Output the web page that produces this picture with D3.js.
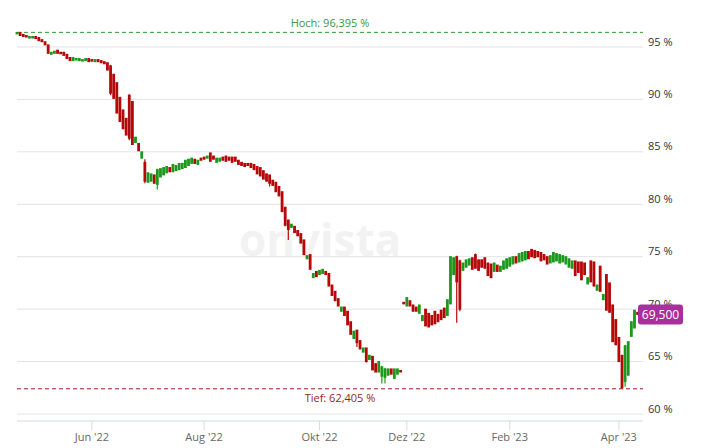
<!DOCTYPE html>
<html lang="de">
<head>
<meta charset="UTF-8">
<title>Kursverlauf</title>
<script src="https://cdn.jsdelivr.net/npm/d3@7"></script>
<style>
  body { margin: 0; background: #fff; }
  svg { display: block; }
  text { font-family: 'Open Sans', sans-serif; }
</style>
</head>
<body>
<script>
// daily candles, oldest first (one per trading day)
const openVals = [
  96.30, 96.39, 96.20, 96.10, 95.85, 95.90, 96.00, 95.90, 95.70, 95.50,
  95.20, 94.30, 94.40, 94.70, 94.50, 94.50, 94.30, 94.00, 93.70, 93.80,
  93.70, 93.70, 93.70, 93.90, 93.80, 93.60, 93.80, 93.70, 93.60, 93.50,
  93.20, 92.40, 91.60, 90.20, 89.00, 88.20, 90.40, 89.80, 85.90, 85.80,
  84.40, 84.00, 82.10, 82.20, 82.80, 81.90, 82.60, 82.80, 83.00, 83.50,
  83.10, 83.20, 83.30, 83.40, 83.50, 83.70, 83.90, 84.30, 83.80, 84.40,
  84.50, 84.40, 84.90, 84.60, 84.00, 84.10, 84.50, 84.60, 84.50, 84.50,
  84.50, 84.20, 84.00, 83.90, 83.90, 83.90, 83.80, 83.60, 83.50, 83.20,
  82.90, 82.80, 82.30, 82.10, 81.70, 81.20, 79.70, 78.50, 77.80, 77.90,
  77.50, 77.20, 76.60, 74.80, 75.20, 73.00, 73.60, 73.30, 73.40, 73.60,
  73.40, 72.30, 71.70, 71.00, 69.80, 70.20, 69.80, 68.80, 67.20, 68.00,
  67.00, 65.90, 66.30, 65.20, 65.50, 64.80, 64.00, 63.60, 63.50, 63.70,
  64.30, 63.40, 63.80, 64.15, 70.65, 70.30, 70.80, 70.40, 70.20, 69.60,
  68.90, 70.00, 69.60, 69.40, 69.80, 69.50, 69.90, 70.10, 69.40, 70.50,
  73.30, 75.00, 74.60, 73.70, 74.00, 74.20, 74.90, 75.20, 74.70, 74.70,
  74.90, 74.40, 74.30, 73.60, 74.20, 73.60, 73.80, 73.90, 74.10, 74.30,
  75.00, 74.50, 74.60, 74.70, 75.50, 75.70, 75.60, 75.50, 75.40, 75.20,
  75.00, 74.40, 74.50, 74.60, 74.40, 74.50, 74.30, 74.00, 73.90, 74.60,
  74.50, 74.50, 74.40, 72.40, 74.60, 74.50, 71.80, 74.10, 70.90, 73.30,
  72.50, 70.40, 69.00, 67.30, 65.60, 63.10, 63.70, 67.40, 68.20, 69.70
];
const closeVals = [
  96.39, 96.10, 96.00, 95.95, 96.00, 96.00, 95.80, 95.60, 95.50, 95.20,
  94.40, 94.50, 94.60, 94.40, 94.40, 94.20, 93.90, 93.70, 94.00, 93.90,
  93.90, 93.80, 93.90, 93.60, 93.65, 93.80, 93.60, 93.50, 93.40, 92.80,
  90.60, 90.10, 88.70, 87.90, 87.20, 86.60, 86.30, 85.70, 86.40, 85.10,
  85.00, 82.20, 83.00, 82.90, 82.00, 83.30, 83.40, 83.50, 83.60, 83.10,
  83.80, 83.70, 83.90, 83.90, 84.20, 84.30, 84.40, 83.90, 84.20, 84.20,
  84.30, 84.60, 84.10, 84.30, 84.40, 84.40, 84.20, 84.10, 84.20, 84.00,
  84.10, 83.80, 83.70, 83.60, 83.70, 83.50, 83.30, 82.90, 82.70, 82.40,
  82.20, 82.00, 81.80, 81.20, 80.80, 79.30, 78.00, 77.60, 78.10, 77.30,
  77.00, 76.30, 75.20, 75.10, 73.80, 73.40, 73.10, 73.70, 73.80, 73.30,
  72.20, 71.30, 70.80, 70.30, 70.20, 69.40, 68.50, 67.60, 67.90, 66.80,
  66.20, 66.30, 65.00, 65.60, 64.20, 64.00, 65.00, 64.50, 64.30, 64.30,
  63.80, 64.30, 64.30, 64.05, 70.55, 71.10, 70.30, 69.80, 69.80, 70.40,
  69.40, 68.40, 68.30, 68.50, 68.60, 68.80, 69.00, 69.20, 70.90, 75.00,
  74.90, 72.60, 70.00, 74.40, 74.70, 74.80, 73.80, 73.90, 73.70, 74.00,
  73.90, 73.20, 73.00, 74.40, 73.60, 74.10, 74.60, 74.80, 74.90, 75.00,
  74.40, 75.30, 75.40, 75.50, 74.80, 75.00, 74.90, 75.00, 74.60, 74.70,
  74.30, 75.10, 75.40, 75.30, 75.20, 75.10, 75.00, 74.80, 74.60, 73.20,
  73.50, 72.80, 73.30, 73.00, 72.60, 72.20, 72.30, 71.70, 71.40, 69.90,
  69.70, 66.90, 66.60, 65.00, 62.50, 66.50, 66.90, 68.80, 69.90, 69.50
];
// [candle index, high, low] where the day's range reaches past the body
const wicks = [
  [0, 96.42, 96.28], [30, 93.30, 90.40], [36, 90.50, 86.10], [41, 84.30, 82.00],
  [45, 83.40, 81.40], [81, 82.80, 81.70], [86, 79.80, 77.90], [87, 78.50, 76.60],
  [109, 68.00, 66.40], [112, 66.30, 64.90], [117, 64.60, 62.90], [118, 64.40, 62.90],
  [141, 75.10, 68.70], [142, 74.70, 69.80], [147, 75.30, 73.90], [194, 65.60, 62.405],
  [195, 66.60, 62.60]
];
const monthTicks = [
  { i: 24, label: "Jun '22" }, { i: 60, label: "Aug '22" }, { i: 97, label: "Okt '22" },
  { i: 125, label: "Dez '22" }, { i: 158, label: "Feb '23" }, { i: 193, label: "Apr '23" }
];
const yTicks = [60, 65, 70, 75, 80, 85, 90, 95];
const hoch = 96.395, tief = 62.405, lastPrice = 69.5;

const W = 714, H = 448;
const left = 17, right = 643, axisY = 421;
const red = "#b50808", green = "#1d981d";

const de = d3.formatLocale({ decimal: ",", thousands: ".", grouping: [3], currency: ["", " €"] });
const f3 = de.format(".3f");

const candles = openVals.map((o, i) => {
  const c = closeVals[i];
  const w = wicks.find(d => d[0] === i);
  return { i, o, c, h: w ? w[1] : Math.max(o, c), l: w ? w[2] : Math.min(o, c) };
});

const x = d3.scaleLinear().domain([0, candles.length - 1]).range([17, 637.6]);
const y = d3.scaleLinear().domain([60, 95]).range([414, 47]);
const step = x(1) - x(0);
const bw = step * 0.9;

const svg = d3.select("body").append("svg").attr("width", W).attr("height", H);

// watermark
svg.append("text").attr("x", 320).attr("y", 256).attr("text-anchor", "middle")
  .attr("font-size", 44).attr("font-weight", 700).attr("fill", "#f2f2f2")
  .text("onvista");

// horizontal grid + right labels
svg.append("g").selectAll("line").data(yTicks).join("line")
  .attr("x1", left).attr("x2", right)
  .attr("y1", d => y(d)).attr("y2", d => y(d))
  .attr("stroke", "#e3e3e3").attr("stroke-width", 1);
svg.append("g").selectAll("text").data(yTicks).join("text")
  .attr("x", 648).attr("y", d => y(d) - 1.5)
  .attr("font-size", 11).attr("fill", "#333")
  .text(d => d + " %");

// x axis
svg.append("line").attr("x1", left).attr("x2", right).attr("y1", axisY).attr("y2", axisY)
  .attr("stroke", "#d5dae0");
svg.append("g").selectAll("line").data(monthTicks).join("line")
  .attr("x1", d => x(d.i)).attr("x2", d => x(d.i))
  .attr("y1", axisY).attr("y2", axisY + 9).attr("stroke", "#d5dae0");
svg.append("g").selectAll("text").data(monthTicks).join("text")
  .attr("x", d => x(d.i)).attr("y", 441).attr("text-anchor", "middle")
  .attr("font-size", 11).attr("fill", "#666")
  .text(d => d.label);

// high / low markers
svg.append("line").attr("x1", left).attr("x2", right).attr("y1", y(hoch)).attr("y2", y(hoch))
  .attr("stroke", "#2f9a2f").attr("stroke-dasharray", "4,3");
svg.append("text").attr("x", 330).attr("y", y(hoch) - 5).attr("text-anchor", "middle")
  .attr("font-size", 11).attr("fill", "#3a9a3a")
  .text("Hoch: " + f3(hoch) + " %");
svg.append("line").attr("x1", left).attr("x2", right).attr("y1", y(tief)).attr("y2", y(tief))
  .attr("stroke", "#9a1c28").attr("stroke-dasharray", "4,3");
svg.append("text").attr("x", 340).attr("y", y(tief) + 13).attr("text-anchor", "middle")
  .attr("font-size", 11).attr("fill", "#9a1c28")
  .text("Tief: " + f3(tief) + " %");

// candles
const g = svg.append("g");
g.selectAll("line").data(candles).join("line")
  .attr("x1", d => x(d.i)).attr("x2", d => x(d.i))
  .attr("y1", d => y(d.h)).attr("y2", d => y(d.l))
  .attr("stroke", d => d.c >= d.o ? green : red).attr("stroke-width", 1.2);
g.selectAll("rect").data(candles).join("rect")
  .attr("x", d => x(d.i) - bw / 2).attr("width", bw)
  .attr("y", d => y(Math.max(d.o, d.c)) - 0.5)
  .attr("height", d => Math.max(2.5, Math.abs(y(d.o) - y(d.c)) + 1))
  .attr("fill", d => d.c >= d.o ? green : red);

// last price badge (covers the 70 % label, as in the original)
const by = y(lastPrice);
svg.append("rect").attr("x", 638).attr("y", by - 10).attr("width", 45).attr("height", 20)
  .attr("rx", 3).attr("fill", "#a8309c");
svg.append("text").attr("x", 660.5).attr("y", by + 4.5).attr("text-anchor", "middle")
  .attr("font-size", 12).attr("fill", "#fff")
  .text(f3(lastPrice));
</script>
</body>
</html>
